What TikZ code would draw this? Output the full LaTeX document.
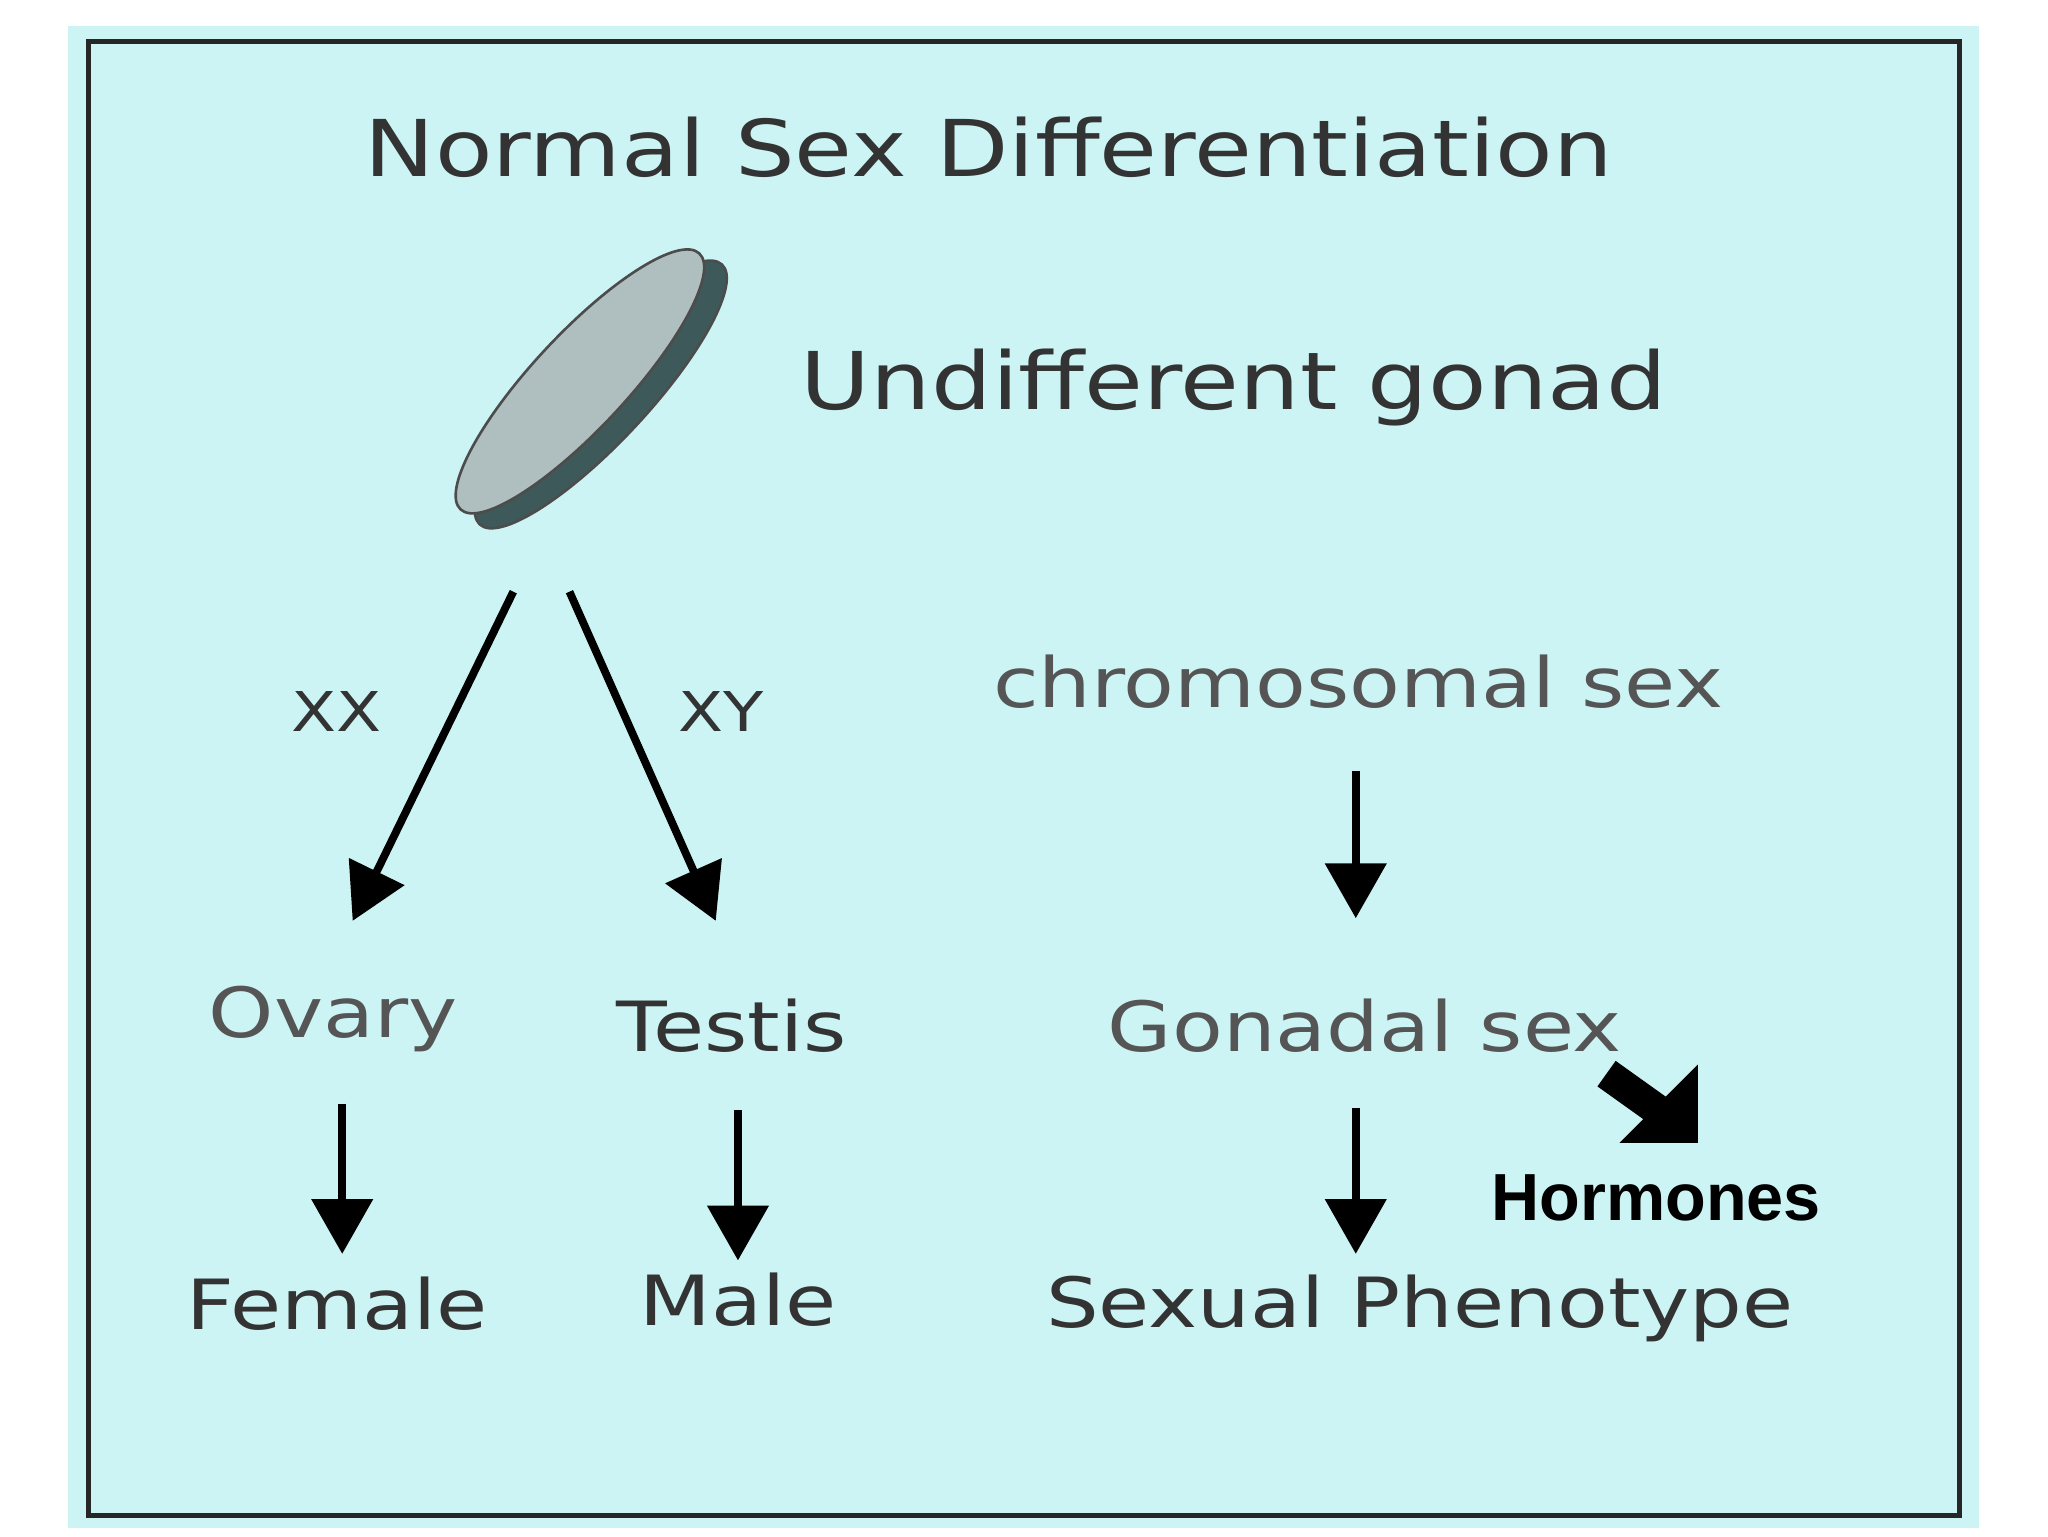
\documentclass[tikz,border=0pt]{standalone}
\usepackage{fontspec}
\setmainfont[FakeStretch=1.2]{DejaVu Sans}
\newfontfamily\lib{Liberation Sans}
\usetikzlibrary{arrows.meta}
\definecolor{bgc}{HTML}{CDF4F4}
\definecolor{txt}{HTML}{333333}
\definecolor{gr}{HTML}{555555}
\begin{document}
\begin{tikzpicture}[x=1pt,y=-1pt,
  lbl/.style={text=txt,font=\fontsize{53}{62}\selectfont,inner sep=0},
  arr/.style={line width=6pt,-{Triangle[width=46pt,length=42pt]}}]
\useasboundingbox (0,0) rectangle (1568,1176);
\fill[white] (0,0) rectangle (1568,1176);
\fill[bgc] (52,20) rectangle (1515,1170);
\draw[line width=4pt,black!85] (68,32) rectangle (1500,1160);
\node[lbl,font=\fontsize{60}{70}\selectfont] (title) at (757,113) {Normal Sex Differentiation};
% gonad
\filldraw[fill=gray!70!teal!70!black,draw=black!70,line width=2pt] (460,302) ellipse [x radius=136,y radius=36,rotate=47];
\filldraw[fill=teal!25!gray!50,draw=black!70,line width=2pt] (444,292) ellipse [x radius=134,y radius=36,rotate=47];
\coordinate (g1) at (393,453);
\coordinate (g2) at (436,453);
\node[lbl,anchor=west,font=\fontsize{61}{70}\selectfont] (und) at (613,297) {Undifferent gonad};
\node[lbl,font=\fontsize{42}{50}\selectfont] (xx) at (258,545) {XX};
\node[lbl,font=\fontsize{42}{50}\selectfont] (xy) at (552,545) {XY};
\node[lbl,text=gr,font=\fontsize{53}{62}\selectfont] (chr) at (1040,522) {chromosomal sex};
\node[lbl,text=gr] (ov) at (255,780) {Ovary};
\node[lbl] (te) at (560,785) {Testis};
\node[lbl,text=gr] (gon) at (1045,785) {Gonadal sex};
\node[lbl,text=black!80] (fe) at (258,998) {Female};
\node[lbl,text=black!80] (ma) at (565,995) {Male};
\node[lbl] (sp) at (1087,1002) {Sexual Phenotype};
\node[inner sep=0,font=\lib\bfseries\fontsize{51}{58}\selectfont] (hor) at (1268,917) {Hormones};
\draw[arr] (g1) -- (270,705);
\draw[arr] (g2) -- (548,705);
\draw[arr] (1038,590) -- (1038,703);
\draw[arr] (262,845) -- (262,960);
\draw[arr] (565,850) -- (565,965);
\draw[arr] (1038,848) -- (1038,960);
\draw[line width=24pt] (1230,822) -- (1272,852);
\fill (1300,815) -- (1300,875) -- (1240,875) -- cycle;
\end{tikzpicture}
\end{document}
